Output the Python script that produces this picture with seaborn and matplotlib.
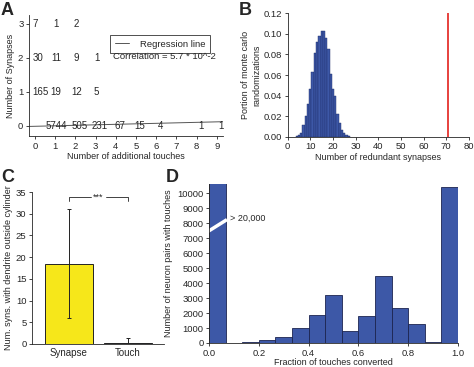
import numpy as np
import pandas as pd
import matplotlib
matplotlib.use('Agg')
import matplotlib.pyplot as plt
import seaborn as sns

# ---- panel A: counts of (additional touches, synapses) pairs
a_touches = [0, 1, 2, 0, 1, 2, 3, 0, 1, 2, 3, 1, 2, 3, 4, 5, 6, 8, 9]
a_synapses = [3, 3, 3, 2, 2, 2, 2, 1, 1, 1, 1, 0, 0, 0, 0, 0, 0, 0, 0]
a_counts = [7, 1, 2, 30, 11, 9, 1, 165, 19, 12, 5, 5744, 505, 231, 67, 15, 4, 1, 1]
reg_intercept = -0.01
reg_slope = 0.0145
corr_text = 'Correlation = 5.7 * 10^-2'

# ---- panel B: monte carlo distribution of redundant synapses
b_synapses = list(range(4, 28))
b_portion = [0.001, 0.002, 0.004, 0.012, 0.020, 0.032, 0.046, 0.063, 0.081, 0.092,
             0.098, 0.103, 0.103, 0.096, 0.085, 0.061, 0.046, 0.040, 0.022, 0.013,
             0.007, 0.004, 0.002, 0.001]
b_observed = 71

# ---- panel C
c_groups = ['Synapse', 'Touch']
c_means = [18.5, 0.3]
c_err = [12.5, 1.0]

# ---- panel D: fraction of touches converted (15 bins)
d_nbins = 15
d_counts = [21000, 20, 40, 170, 380, 1000, 1870, 3180, 780, 1780, 4490, 2330, 1240, 70, 10440]

sns.set_style('ticks')
plt.rcParams['font.family'] = ['Liberation Sans', 'DejaVu Sans']
plt.rcParams['font.size'] = 7
plt.rcParams['axes.labelsize'] = 6.5
plt.rcParams['xtick.labelsize'] = 6.8
plt.rcParams['ytick.labelsize'] = 6.8
plt.rcParams['axes.linewidth'] = 0.6
plt.rcParams['xtick.major.width'] = 0.6
plt.rcParams['ytick.major.width'] = 0.6
plt.rcParams['xtick.major.size'] = 2.5
plt.rcParams['ytick.major.size'] = 2.5
plt.rcParams['xtick.major.pad'] = 1.5
plt.rcParams['ytick.major.pad'] = 1.5

fig = plt.figure(figsize=(4.74, 3.67), dpi=100)
blue = '#3d58a7'

# ================= A
axA = fig.add_axes([0.061, 0.629, 0.409, 0.33])
for x, y, n in zip(a_touches, a_synapses, a_counts):
    if x == 0:
        axA.text(x - 0.12, y, str(n), ha='left', va='center', fontsize=7)
    elif y == 0 and x >= 2:
        # bottom row is crowded, labels sit a bit right of their column
        axA.text(x + 0.2, y, str(n), ha='center', va='center', fontsize=7)
    else:
        axA.text(x + 0.05, y, str(n), ha='center', va='center', fontsize=7)
xs = np.array([-0.3, 9.3])
axA.plot(xs, reg_intercept + reg_slope * xs, color='#555555', lw=0.7, label='Regression line')
axA.set_xlim(-0.3, 9.3)
axA.set_ylim(-0.3, 3.26)
axA.set_xticks(range(10))
axA.set_yticks(range(4))
axA.set_xlabel('Number of additional touches', labelpad=1)
axA.set_ylabel('Number of Synapses', labelpad=2)
leg = axA.legend(loc='upper right', bbox_to_anchor=(0.96, 0.875), fontsize=6.8,
                 frameon=True, fancybox=False, edgecolor='black', handlelength=1.5,
                 borderpad=0.5, handletextpad=1.2)
leg.get_frame().set_linewidth(0.6)
axA.text(0.965, 0.655, corr_text, transform=axA.transAxes, ha='right', va='center', fontsize=6.8)
sns.despine(ax=axA)

# ================= B
axB = fig.add_axes([0.607, 0.627, 0.382, 0.337])
sns.histplot(x=b_synapses, weights=b_portion, discrete=True, ax=axB,
             color=blue, alpha=1, edgecolor='#1c2b66', linewidth=0.3)
axB.axvline(b_observed, ymin=0, ymax=1, color='#e3211c', lw=1.2)
axB.set_xlim(0, 80)
axB.set_ylim(0, 0.12)
axB.set_xticks(range(0, 81, 10))
axB.set_yticks(np.arange(0, 0.121, 0.02))
axB.yaxis.set_major_formatter(matplotlib.ticker.FormatStrFormatter('%.2f'))
axB.set_xlabel('Number of redundant synapses', labelpad=1)
axB.set_ylabel('Portion of monte carlo\nrandomizations', labelpad=2)
sns.despine(ax=axB)

# ================= C
axC = fig.add_axes([0.0675, 0.0627, 0.278, 0.414])
dfC = pd.DataFrame({'group': c_groups, 'mean': c_means})
sns.barplot(data=dfC, x='group', y='mean', hue='group', palette=['#f6e71a', '#1e2a55'],
            saturation=1, errorbar=None, width=0.8, edgecolor='#222222', linewidth=0.7,
            legend=False, ax=axC)
axC.errorbar(range(len(c_groups)), c_means, yerr=c_err, fmt='none', ecolor='#222222',
             elinewidth=0.7, capsize=1.5, capthick=0.7)
axC.plot([0, 0, 0.38], [33.0, 33.9, 33.9], color='#222222', lw=0.6)
axC.plot([0.62, 1, 1], [33.9, 33.9, 33.0], color='#222222', lw=0.6)
axC.text(0.5, 33.9, '***', ha='center', va='center', fontsize=6.5)
axC.set_xlim(-0.62, 1.6)
axC.set_ylim(0, 35)
axC.set_yticks(range(0, 36, 5))
axC.tick_params(axis='x', length=0, pad=3, labelsize=7)
axC.set_xlabel('')
axC.set_ylabel('Num. syns. with dendrite outside cylinder', labelpad=2)
sns.despine(ax=axC)

# ================= D
axD = fig.add_axes([0.441, 0.0654, 0.525, 0.434])
dfD = pd.DataFrame({'frac': (np.arange(d_nbins) + 0.5) / d_nbins, 'n': d_counts})
sns.histplot(data=dfD, x='frac', weights='n', bins=d_nbins, binrange=(0, 1), ax=axD,
             color=blue, alpha=1, edgecolor='#1c2450', linewidth=0.6)
axD.set_xlim(0, 1)
axD.set_ylim(0, 10650)
axD.set_yticks(range(0, 10001, 1000))
axD.set_xticks(np.arange(0, 1.01, 0.2))
axD.xaxis.set_major_formatter(matplotlib.ticker.FormatStrFormatter('%.1f'))
axD.plot([-0.005, 0.072], [7450, 8250], color='white', lw=2.5, solid_capstyle='butt', clip_on=False)
axD.text(0.084, 8330, '> 20,000', ha='left', va='center', fontsize=6.5)
axD.set_xlabel('Fraction of touches converted', labelpad=0)
axD.set_ylabel('Number of neuron pairs with touches', labelpad=3)
sns.despine(ax=axD)

# panel letters
for lbl, x, y in [('A', 0.002, 0.995), ('B', 0.503, 0.995), ('C', 0.002, 0.54), ('D', 0.35, 0.54)]:
    fig.text(x, y, lbl, ha='left', va='top', fontsize=13, fontweight='bold')

fig.savefig('out.png', dpi=100)
